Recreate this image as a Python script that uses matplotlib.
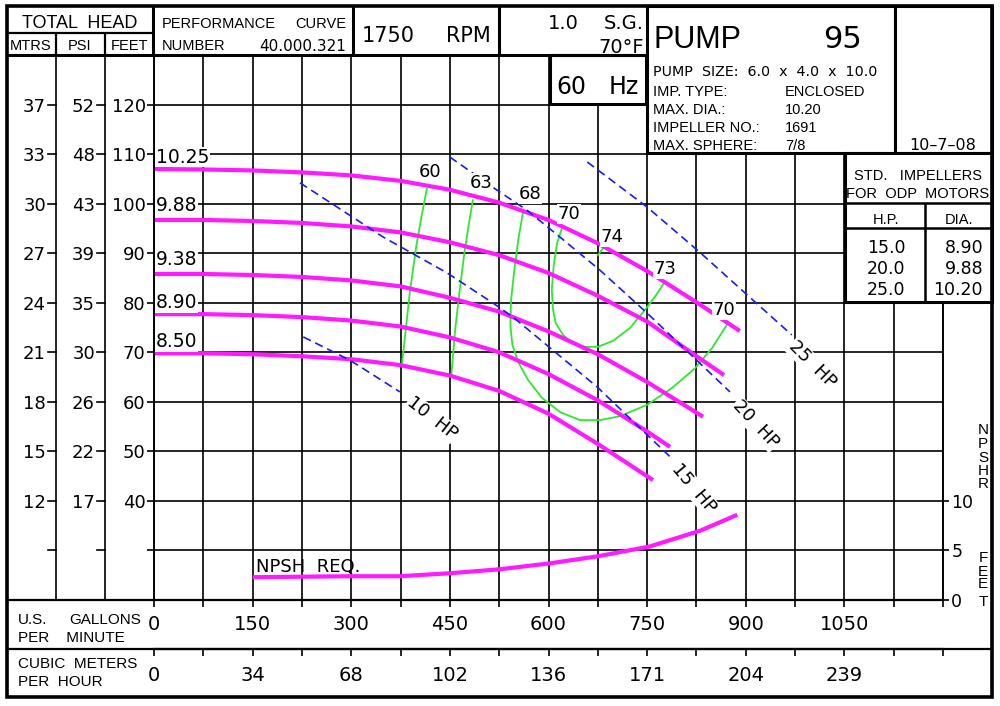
import matplotlib
matplotlib.use("Agg")
import matplotlib.pyplot as plt
from matplotlib.patches import Rectangle

# digits look closest in DejaVu, words in Liberation Sans
plt.rcParams['font.family'] = ['DejaVu Sans']
WORD = ['Liberation Sans', 'DejaVu Sans']

'''Axis data'''
gpm_ticks = list(range(0, 1201, 75))
gpm_labels = [0, 150, 300, 450, 600, 750, 900, 1050]
cmh_labels = [0, 34, 68, 102, 136, 171, 204, 239]
feet_grid = list(range(20, 131, 10))
feet_ticks = [40, 50, 60, 70, 80, 90, 100, 110, 120]
mtrs_labels = [12, 15, 18, 21, 24, 27, 30, 33, 37]
psi_labels = [17, 22, 26, 30, 35, 39, 43, 48, 52]
npsh_ticks = [0, 5, 10]

'''Impeller curves (gpm, feet)'''
imp_names = ["10.25", "9.88", "9.38", "8.90", "8.50"]
imp_label_ft = [109.8, 100.1, 89.2, 80.5, 72.5]
gpm_1025 = [0, 75, 150, 225, 300, 375, 450, 525, 600, 675, 750, 825, 891]
ft_1025 = [107.0, 106.9, 106.7, 106.3, 105.7, 104.6, 102.8, 100.2, 96.7, 92.0, 86.4, 80.1, 74.3]
gpm_988 = [0, 75, 150, 225, 300, 375, 450, 525, 600, 675, 750, 825, 867]
ft_988 = [96.7, 96.7, 96.5, 96.1, 95.4, 94.2, 92.2, 89.6, 86.0, 81.4, 76.2, 69.2, 65.4]
gpm_938 = [0, 75, 150, 225, 300, 375, 450, 525, 600, 675, 750, 835]
ft_938 = [85.8, 85.8, 85.6, 85.2, 84.5, 83.3, 81.0, 78.2, 74.2, 69.6, 64.0, 57.0]
gpm_890 = [0, 75, 150, 225, 300, 375, 450, 525, 600, 675, 750, 785]
ft_890 = [77.7, 77.7, 77.5, 77.1, 76.4, 75.2, 73.0, 70.0, 65.6, 60.3, 54.0, 50.9]
gpm_850 = [0, 75, 150, 225, 300, 375, 450, 525, 600, 675, 759]
ft_850 = [69.8, 69.8, 69.6, 69.2, 68.6, 67.4, 65.3, 62.2, 57.6, 51.5, 44.2]

'''Efficiency curves'''
eff60_gpm = [415, 407, 399, 389, 382, 377]
eff60_ft = [103.0, 97.5, 91.5, 82.0, 73.5, 67.4]
eff63_gpm = [485, 479, 472, 465, 458, 452]
eff63_ft = [100.7, 96.0, 90.0, 82.6, 74.5, 65.0]
eff68_gpm = [561, 554, 548, 543, 542, 545, 554, 569, 590, 618, 648, 678, 709, 750, 788, 823, 849, 873]
eff68_ft = [98.1, 92.7, 86.6, 80.5, 75.5, 71.5, 68.0, 64.4, 60.8, 57.9, 56.3, 56.3, 57.1, 59.4,
            62.8, 66.8, 70.9, 75.9]
eff70_gpm = [621, 613, 608, 605, 607, 611, 622, 636, 653, 675, 698, 724, 750, 765, 777]
eff70_ft = [95.3, 92.0, 87.6, 82.6, 78.5, 75.9, 73.5, 71.9, 71.1, 71.1, 72.3, 74.9, 79.1, 81.8, 84.2]
eff74_gpm = [683, 675]
eff74_ft = [91.0, 89.6]
eff_labels = ["60", "63", "68", "70", "74", "73", "70"]
eff_label_gpm = [420, 497, 572, 631, 697, 777, 867]
eff_label_ft = [106.8, 104.6, 102.3, 98.3, 93.7, 87.2, 78.9]

'''Horsepower lines'''
hp10_gpm = [227, 298, 374]
hp10_ft = [73.1, 68.4, 62.0]
hp15_gpm = [222, 348, 446, 516, 546, 674, 785]
hp15_ft = [104.2, 93.3, 86.0, 79.9, 77.1, 63.0, 48.9]
hp20_gpm = [450, 522, 567, 617, 678, 750, 876]
hp20_ft = [109.4, 102.7, 98.7, 93.3, 86.6, 77.9, 62.0]
hp25_gpm = [659, 750, 830, 902, 970]
hp25_ft = [108.4, 99.3, 90.2, 81.6, 73.5]
hp_labels = ["10  HP", "15  HP", "20  HP", "25  HP"]
hp_label_gpm = [425, 823, 917, 1003]
hp_label_ft = [57.0, 42.8, 55.7, 67.8]
hp_label_rot = [-38, -50, -47, -45]

'''NPSH required'''
npsh_gpm = [150, 298, 374, 450, 526, 602, 674, 754, 831, 887]
npsh_ft = [2.3, 2.4, 2.4, 2.7, 3.1, 3.7, 4.4, 5.4, 7.0, 8.6]

'''Pump info'''
info_keys = ["IMP. TYPE:", "MAX. DIA.:", "IMPELLER NO.:", "MAX. SPHERE:"]
info_vals = ["ENCLOSED", "10.20", "1691", "7/8"]
std_hp = ["15.0", "20.0", "25.0"]
std_dia = ["8.90", "9.88", "10.20"]

MAG = '#ff1aff'
GRN = '#2ee82e'
BLU = '#1a1aff'
CB = 'center_baseline'
wbox = dict(facecolor='white', edgecolor='none', pad=0.5)

fig = plt.figure(figsize=(10, 7.06), dpi=100)
fig.patch.set_facecolor('white')

# main grid: pixel box x 154..943, y 55..600
ax = fig.add_axes([0.154, 106 / 706, 0.789, 545 / 706])
ax.set_xlim(0, 1200)
ax.set_ylim(20, 130)
ax.set_xticks(gpm_ticks)
ax.set_xticklabels([str(g) if g in gpm_labels else '' for g in gpm_ticks])
ax.set_yticks(feet_grid)
ax.set_yticklabels([str(f) if f in feet_ticks else '' for f in feet_grid])
ax.grid(True, color='black', lw=1.2)
ax.tick_params(axis='x', direction='out', length=5, width=1.2, pad=6, labelsize=14)
ax.tick_params(axis='y', direction='out', length=5, width=1.2, pad=1, labelsize=13)
for s in ax.spines.values():
    s.set_linewidth(1.2)

sec = ax.secondary_xaxis(-49 / 545)
sec.set_xticks(gpm_ticks)
sec.set_xticklabels([str(cmh_labels[gpm_labels.index(g)]) if g in gpm_labels else ''
                     for g in gpm_ticks])
sec.tick_params(direction='out', length=5, width=1.2, pad=7, labelsize=14)
sec.spines['bottom'].set_linewidth(1.6)

# metres and psi columns
ytr = ax.get_yaxis_transform()
for ft, m, p in zip(feet_ticks, mtrs_labels, psi_labels):
    ax.text((46 - 154) / 789, ft, str(m), transform=ytr, ha='right', va=CB, fontsize=13)
    ax.text((95 - 154) / 789, ft, str(p), transform=ytr, ha='right', va=CB, fontsize=13)
for ft in feet_ticks + [30]:
    ax.plot([(48 - 154) / 789, (56 - 154) / 789], [ft, ft], transform=ytr, color='k', lw=1.2, clip_on=False)
    ax.plot([(97 - 154) / 789, (105 - 154) / 789], [ft, ft], transform=ytr, color='k', lw=1.2, clip_on=False)

# efficiency
for g, f in [(eff60_gpm, eff60_ft), (eff63_gpm, eff63_ft), (eff68_gpm, eff68_ft),
             (eff70_gpm, eff70_ft), (eff74_gpm, eff74_ft)]:
    ax.plot(g, f, color=GRN, lw=1.3, zorder=3)

# impellers
curves = [(gpm_1025, ft_1025), (gpm_988, ft_988), (gpm_938, ft_938), (gpm_890, ft_890), (gpm_850, ft_850)]
for (g, f), name, lf in zip(curves, imp_names, imp_label_ft):
    ax.plot(g, f, color=MAG, lw=3, zorder=4, solid_capstyle='butt', solid_joinstyle='round')
    ax.text(3, lf, name, ha='left', va=CB, fontsize=13.5, zorder=6, bbox=wbox)

# horsepower
for g, f in [(hp10_gpm, hp10_ft), (hp15_gpm, hp15_ft), (hp20_gpm, hp20_ft), (hp25_gpm, hp25_ft)]:
    ax.plot(g, f, color=BLU, lw=1.2, dashes=(5, 3), zorder=5)
for t, g, f, r in zip(hp_labels, hp_label_gpm, hp_label_ft, hp_label_rot):
    ax.text(g, f, t, rotation=r, ha='center', va=CB, fontsize=13, zorder=6,
            rotation_mode='anchor', bbox=wbox)
for t, g, f in zip(eff_labels, eff_label_gpm, eff_label_ft):
    ax.text(g, f, t, ha='center', va=CB, fontsize=13, zorder=6, bbox=wbox)

# NPSH axis
ax2 = ax.twinx()
ax2.set_ylim(0, 55)
ax2.set_yticks(npsh_ticks)
ax2.tick_params(direction='out', length=4, width=1.2, pad=2, labelsize=12.5)
for s in ax2.spines.values():
    s.set_linewidth(1.2)
ax2.plot(npsh_gpm, npsh_ft, color=MAG, lw=3, solid_capstyle='butt')
ax2.text(155, 3.5, "NPSH  REQ.", ha='left', va=CB, fontsize=13)

# frame and header in pixel space
ov = fig.add_axes([0, 0, 1, 1], zorder=5)
ov.set_xlim(0, 1000)
ov.set_ylim(706, 0)
ov.axis('off')
ov.patch.set_alpha(0)

def box(x0, y0, x1, y1, lw=2.2, fill='white'):
    ov.add_patch(Rectangle((x0, y0), x1 - x0, y1 - y0, facecolor=fill, edgecolor='black', lw=lw))

def seg(x0, y0, x1, y1, lw=2.2):
    ov.plot([x0, x1], [y0, y1], color='black', lw=lw, solid_capstyle='butt')

def txt(x, y, s, fs, ha='center', fam=None):
    ov.text(x, y, s, fontsize=fs, ha=ha, va=CB, family=fam or WORD)

box(647, 6, 895, 153)
box(895, 6, 992, 153)
box(550, 55, 646, 104)
box(845, 153, 992, 302)
box(7, 6, 992, 697, lw=2.6, fill='none')
seg(7, 55, 647, 55)
seg(7, 33, 153, 33, 1.6)
for x in [153, 353, 499]:
    seg(x, 6, x, 55)
for x in [56, 105]:
    seg(x, 33, x, 55, 1.6)
    seg(x, 55, x, 600, 1.2)
seg(7, 600, 943, 600, 1.6)
seg(7, 649, 992, 649, 1.6)
seg(845, 203, 992, 203, 1.8)
seg(845, 228, 992, 228, 1.8)
seg(925, 203, 925, 302, 1.8)

DJ = ['DejaVu Sans']
txt(80, 22, "TOTAL  HEAD", 13)
txt(31, 45, "MTRS", 10.5)
txt(80, 45, "PSI", 10.5)
txt(129, 45, "FEET", 10.5)
txt(162, 22.5, "PERFORMANCE", 10.5, 'left')
txt(346, 22.5, "CURVE", 10.5, 'right')
txt(162, 45, "NUMBER", 10.5, 'left')
txt(346, 45, "40.000.321", 11, 'right', DJ)
txt(362, 34.5, "1750", 15, 'left', DJ)
txt(491, 34.5, "RPM", 15, 'right', DJ)
txt(548, 21.5, "1.0", 14, 'left', DJ)
txt(644, 21.5, "S.G.", 14, 'right', DJ)
txt(644, 45.5, "70°F", 14, 'right', DJ)
txt(556, 84, "60", 17, 'left', DJ)
txt(639, 84, "Hz", 17, 'right', DJ)
txt(654, 37, "PUMP", 22, 'left')
txt(862, 37, "95", 22, 'right', DJ)
txt(653, 71, "PUMP  SIZE:  6.0  x  4.0  x  10.0", 10.3, 'left', DJ)
for i, (k, v) in enumerate(zip(info_keys, info_vals)):
    txt(653, 90 + i * 18, k, 10.5, 'left')
    txt(785, 90 + i * 18, v, 10.5, 'left')
txt(943, 144, "10–7–08", 11.5, 'center', DJ)
txt(918, 174, "STD.   IMPELLERS", 10.5)
txt(918, 192, "FOR  ODP  MOTORS", 10.5)
txt(886, 218, "H.P.", 10.5)
txt(959, 218, "DIA.", 10.5)
for i, (h, d) in enumerate(zip(std_hp, std_dia)):
    txt(886, 246 + i * 21, h, 12.5, 'center', DJ)
    txt(983, 246 + i * 21, d, 12.5, 'right', DJ)
txt(18, 619, "U.S.", 11, 'left')
txt(141, 619, "GALLONS", 11, 'right')
txt(18, 637, "PER    MINUTE", 11, 'left')
txt(18, 663, "CUBIC  METERS", 11, 'left')
txt(18, 681, "PER  HOUR", 11, 'left')
for i, ch in enumerate("NPSHR"):
    txt(983, 429 + i * 13.5, ch, 11)
for y, ch in zip([557, 570, 583, 601], "FEET"):
    txt(983, y, ch, 11)

fig.savefig("out.png", dpi=100, facecolor='white')
